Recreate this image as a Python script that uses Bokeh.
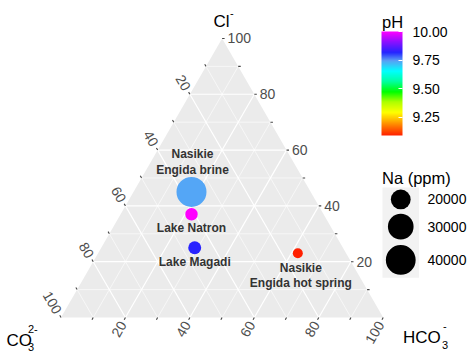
import math

from bokeh.core.properties import value
from bokeh.embed import file_html
from bokeh.models import (ColorBar, ColumnDataSource, FixedTicker,
                          LinearColorMapper, NumeralTickFormatter, Range1d)
from bokeh.plotting import figure
from bokeh.resources import INLINE

# ---- data -----------------------------------------------------------------
sites = ["Nasikie\nEngida brine", "Lake Natron", "Lake Magadi",
         "Nasikie\nEngida hot spring"]
co3 = [37, 41, 46, 15]        # CO3 2- share (%)
cl = [45, 37, 25, 23]         # Cl- share (%)
hco3 = [18, 22, 29, 62]       # HCO3- share (%)
ph = [9.74, 10.0, 9.82, 9.09]
na = [40500, 13900, 14100, 13500]   # Na (ppm)

ternary_breaks = [20, 40, 60, 80, 100]
ph_breaks = [9.25, 9.50, 9.75, 10.00]
na_breaks = [20000, 30000, 40000]

# ---- layout -----------------------------------------------------------------
W, H = 474, 351
FONT = "Liberation Sans"
SCALE = 3.222            # screen px per ternary unit
X0, Y0 = 60.5, 317.0     # screen position of the CO3 corner (top-left origin)
R3 = math.sqrt(3) / 2
D_MIN, D_MAX = 10.0, 30.0  # marker diameter range (px)

# label nudges in screen px (right / down)
label_dx = [1, 0, 0, 3]
label_dy = [-30, 14, 14, 22]


def tern(a, t, r):
    tot = a + t + r
    return 100 * (r + t / 2) / tot, 100 * R3 * t / tot


def scr(xp, yp):
    """screen pixel position (origin top-left) -> data coordinates"""
    return (xp - X0) / SCALE, (Y0 - yp) / SCALE


def na_size(v):
    lo, hi = min(na), max(na)
    f = min(max((v - lo) / (hi - lo), 0.0), 1.0)
    return D_MIN + (D_MAX - D_MIN) * math.sqrt(f)


def lerp_hex(c1, c2, f):
    a = [int(c1[i:i + 2], 16) for i in (1, 3, 5)]
    b = [int(c2[i:i + 2], 16) for i in (1, 3, 5)]
    return "#%02x%02x%02x" % tuple(round(x + (y - x) * f) for x, y in zip(a, b))


# rainbow-like palette, low -> high
stops = [(0.00, "#ff2000"), (0.08, "#ff7000"), (0.17, "#ffcc00"),
         (0.22, "#ffff00"), (0.32, "#b0ff00"), (0.42, "#00ff00"),
         (0.52, "#00ffa0"), (0.62, "#00ffff"), (0.72, "#5aa0f5"),
         (0.80, "#2424ff"), (0.90, "#8a10ff"), (1.00, "#ff00ff")]
palette = []
for i in range(256):
    f = i / 255
    for (f1, c1), (f2, c2) in zip(stops[:-1], stops[1:]):
        if f1 <= f <= f2:
            palette.append(lerp_hex(c1, c2, (f - f1) / (f2 - f1)))
            break

mapper = LinearColorMapper(palette=palette, low=min(ph), high=max(ph))

p = figure(width=W, height=H,
           x_range=Range1d(-X0 / SCALE, (W - X0) / SCALE),
           y_range=Range1d((Y0 - H) / SCALE, Y0 / SCALE),
           x_axis_type=None, y_axis_type=None, toolbar_location=None,
           output_backend="svg", min_border=0, outline_line_color=None,
           background_fill_color="white", border_fill_color="white")

# ---- triangle panel -------------------------------------------------------
corners = [tern(100, 0, 0), tern(0, 100, 0), tern(0, 0, 100)]
p.patch([c[0] for c in corners], [c[1] for c in corners],
        fill_color="#ebebeb", line_color=None)

# grid lines: one family per component
grid = {"major": ([], []), "minor": ([], [])}
for k in range(10, 100, 10):
    kind = "major" if k % 20 == 0 else "minor"
    segs = [
        (tern(100 - k, k, 0), tern(0, k, 100 - k)),      # Cl = k
        (tern(k, 100 - k, 0), tern(k, 0, 100 - k)),      # CO3 = k
        (tern(100 - k, 0, k), tern(0, 100 - k, k)),      # HCO3 = k
    ]
    for a, b in segs:
        grid[kind][0].append([a[0], b[0]])
        grid[kind][1].append([a[1], b[1]])
p.multi_line(grid["minor"][0], grid["minor"][1], line_color="white",
             line_width=0.6)
p.multi_line(grid["major"][0], grid["major"][1], line_color="white",
             line_width=1.2)

# ticks and tick labels
TICK = 2.5 / SCALE
OFF = 5.5 / SCALE
dirs = {"cl": (1.0, 0.0), "co3": (-0.5, R3), "hco3": (-0.5, -R3)}
tk = {"x0": [], "y0": [], "x1": [], "y1": []}
lab = {"x": [], "y": [], "text": [], "angle": [], "align": []}
for k in range(10, 101, 10):
    for fam, pt, ang, al in (
            ("cl", tern(0, k, 100 - k), 0.0, "left"),
            ("co3", tern(k, 100 - k, 0), -math.pi / 3, "right"),
            ("hco3", tern(100 - k, 0, k), math.pi / 3, "right")):
        dx, dy = dirs[fam]
        tk["x0"].append(pt[0])
        tk["y0"].append(pt[1])
        tk["x1"].append(pt[0] + dx * TICK)
        tk["y1"].append(pt[1] + dy * TICK)
        if k in ternary_breaks:
            lab["x"].append(pt[0] + dx * OFF)
            lab["y"].append(pt[1] + dy * OFF)
            lab["text"].append(str(k))
            lab["angle"].append(ang)
            lab["align"].append(al)
p.segment("x0", "y0", "x1", "y1", source=ColumnDataSource(tk),
          line_color="#444444", line_width=1.1)
p.text("x", "y", text="text", angle="angle", text_align="align",
       source=ColumnDataSource(lab), text_baseline="middle",
       text_font=value(FONT), text_font_size="14px", text_color="#4d4d4d")

# ---- points -------------------------------------------------------------------
pts = [tern(a, t, r) for a, t, r in zip(co3, cl, hco3)]
src = ColumnDataSource(dict(
    x=[q[0] for q in pts], y=[q[1] for q in pts], ph=ph,
    size=[na_size(v) for v in na], site=sites, dx=label_dx, dy=label_dy))
p.scatter("x", "y", size="size", source=src, line_color=None,
          fill_color={"field": "ph", "transform": mapper})
p.text("x", "y", text="site", x_offset="dx", y_offset="dy", source=src,
       text_align="center", text_baseline="middle", text_font=value(FONT),
       text_font_style="bold", text_font_size="12px", text_color="#333333",
       text_line_height=1.1)

# ---- axis titles ------------------------------------------------------------
def put(xp, yp, txt, size, **kw):
    x, y = scr(xp, yp)
    p.text([x], [y], text=[txt], text_font=value(FONT),
           text_font_size=size, text_color="black",
           text_baseline="alphabetic", **kw)


put(213, 20.5, "Cl", "17px")
put(229.5, 12.5, "-", "11px")
put(6, 340, "CO", "17px")
put(27.5, 346, "3", "11px")
put(27.5, 328, "2-", "11px")
put(402.5, 337, "HCO", "17px")
put(441.5, 344, "3", "11px")
put(442.5, 325, "-", "11px")

# ---- pH colour bar ------------------------------------------------------------
put(381.5, 21, "pH", "16.5px")
cb = ColorBar(color_mapper=mapper, location=(381, H - 135), width=21,
              height=104, padding=0, margin=0,
              ticker=FixedTicker(ticks=ph_breaks),
              formatter=NumeralTickFormatter(format="0.00"),
              major_label_text_font=FONT, major_label_text_font_size="14px",
              major_label_text_color="black", label_standoff=10,
              major_tick_line_color="white", major_tick_in=4,
              major_tick_out=0, bar_line_color=None,
              background_fill_alpha=0, border_line_color=None)
p.add_layout(cb)

# ---- Na size legend -------------------------------------------------------------
put(381.5, 177, "Na (ppm)", "16.5px")
KEY_TOP, KEY_L, KEY_R = 187.0, 382.0, 418.5
key_h = [max(23.0, 1.2 * na_size(v)) for v in na_breaks]
key_bottom = KEY_TOP + sum(key_h)
bl, bt = scr(KEY_L, KEY_TOP)
br, bb = scr(KEY_R, key_bottom)
p.quad(left=[bl], right=[br], top=[bt], bottom=[bb], fill_color="#f2f2f2",
       line_color=None)
ky, acc = [], KEY_TOP
for h in key_h:
    ky.append(acc + h / 2)
    acc += h
leg = ColumnDataSource(dict(
    x=[scr((KEY_L + KEY_R) / 2, y)[0] for y in ky],
    y=[scr(0, y)[1] for y in ky],
    tx=[scr(427, y)[0] for y in ky],
    size=[na_size(v) for v in na_breaks],
    label=[str(v) for v in na_breaks]))
p.scatter("x", "y", size="size", source=leg, fill_color="black",
          line_color=None)
p.text("tx", "y", text="label", source=leg, text_baseline="middle",
       text_font=value(FONT), text_font_size="14px", text_color="black")

open("out.html", "w").write(file_html(p, INLINE))
